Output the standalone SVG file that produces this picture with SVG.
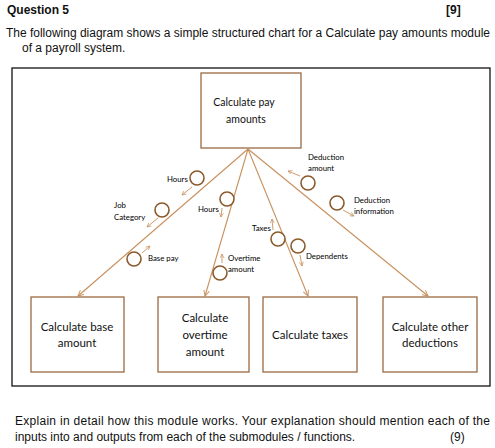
<svg xmlns="http://www.w3.org/2000/svg" width="495" height="448" viewBox="0 0 495 448">
<defs>
<style>
.hdr{font-family:"Liberation Sans",Arial,sans-serif;font-size:12px;fill:#111}
.b{font-weight:bold}
.box{fill:#fff;stroke:#9a6b43;stroke-width:1.3}
.bt{font-family:Lato,"Open Sans",sans-serif;font-size:11.5px;fill:#111;text-anchor:middle}
.tt{font-family:Lato,"Open Sans",sans-serif;font-size:10.5px;fill:#111;text-anchor:middle}
.lbl{font-family:Lato,"Open Sans",sans-serif;font-size:7.8px;fill:#000}
.con{stroke:#c8905e;stroke-width:1.1;fill:none}
.cpl{stroke:#c8905e;stroke-width:0.9;fill:none}
.cir{fill:#fff;stroke:#8b5a2b;stroke-width:1.6}
</style>
<marker id="ah" viewBox="0 0 10 10" refX="9" refY="5" markerWidth="7" markerHeight="7" orient="auto" markerUnits="userSpaceOnUse">
<path d="M1,1 L9,5 L1,9" fill="none" stroke="#c8905e" stroke-width="1.3"/>
</marker>
<marker id="sh" viewBox="0 0 10 10" refX="9" refY="5" markerWidth="5" markerHeight="5" orient="auto" markerUnits="userSpaceOnUse">
<path d="M1,1 L9,5 L1,9" fill="none" stroke="#c8905e" stroke-width="1.4"/>
</marker>
</defs>
<rect width="495" height="448" fill="#fff"/>
<g id="header">
<text class="hdr b" x="7" y="14">Question 5</text>
<text class="hdr b" x="446" y="14">[9]</text>
<text class="hdr" x="6" y="37" textLength="484" lengthAdjust="spacingAndGlyphs">The following diagram shows a simple structured chart for a Calculate pay amounts module</text>
<text class="hdr" x="22" y="52">of a payroll system.</text>
</g>
<rect id="frame" x="12" y="68" width="478" height="318" fill="none" stroke="#111" stroke-width="1.3"/>
<g id="connectors">
<line class="con" x1="248" y1="149" x2="78" y2="296" marker-end="url(#ah)"/>
<line class="con" x1="248" y1="149" x2="205" y2="296" marker-end="url(#ah)"/>
<line class="con" x1="248" y1="149" x2="308" y2="296" marker-end="url(#ah)"/>
<line class="con" x1="248" y1="149" x2="428" y2="296" marker-end="url(#ah)"/>
</g>
<g id="top">
<rect class="box" x="201" y="73" width="100" height="75"/>
<text class="tt" x="244" y="106">Calculate pay</text>
<text class="tt" x="246" y="123">amounts</text>
</g>
<g id="base">
<rect class="box" x="31" y="297" width="93" height="75"/>
<text class="bt" x="77" y="331">Calculate base</text>
<text class="bt" x="77" y="347">amount</text>
</g>
<g id="overtime">
<rect class="box" x="158" y="297" width="91" height="75"/>
<text class="bt" x="205" y="322">Calculate</text>
<text class="bt" x="205" y="339">overtime</text>
<text class="bt" x="205" y="356">amount</text>
</g>
<g id="taxes">
<rect class="box" x="263" y="297" width="94" height="75"/>
<text class="bt" x="310" y="339">Calculate taxes</text>
</g>
<g id="other">
<rect class="box" x="383" y="297" width="94" height="75"/>
<text class="bt" x="430" y="331">Calculate other</text>
<text class="bt" x="430" y="347">deductions</text>
</g>
<g id="couples">
<g id="c-hours1">
<line class="cpl" x1="192" y1="187" x2="182" y2="195" marker-end="url(#sh)"/>
<circle class="cir" cx="197" cy="178" r="7"/>
<text class="lbl" x="167" y="182">Hours</text>
</g>
<g id="c-job">
<line class="cpl" x1="158" y1="218" x2="147" y2="227" marker-end="url(#sh)"/>
<circle class="cir" cx="162" cy="210" r="7"/>
<text class="lbl" x="114" y="208">Job</text>
<text class="lbl" x="114" y="220">Category</text>
</g>
<g id="c-basepay">
<line class="cpl" x1="142" y1="253" x2="150" y2="246" marker-end="url(#sh)"/>
<circle class="cir" cx="134" cy="259" r="7"/>
<text class="lbl" x="148" y="261">Base pay</text>
</g>
<g id="c-hours2">
<line class="cpl" x1="222" y1="208" x2="221" y2="217" marker-end="url(#sh)"/>
<circle class="cir" cx="227" cy="199" r="7"/>
<text class="lbl" x="198" y="212">Hours</text>
</g>
<g id="c-overtime">
<line class="cpl" x1="222" y1="263" x2="222" y2="254" marker-end="url(#sh)"/>
<circle class="cir" cx="220" cy="273" r="7"/>
<text class="lbl" x="228" y="261">Overtime</text>
<text class="lbl" x="228" y="272">amount</text>
</g>
<g id="c-taxes">
<line class="cpl" x1="273" y1="230" x2="272" y2="219" marker-end="url(#sh)"/>
<circle class="cir" cx="278" cy="239" r="7"/>
<text class="lbl" x="252" y="231">Taxes</text>
</g>
<g id="c-dependents">
<line class="cpl" x1="300" y1="255" x2="302" y2="266" marker-end="url(#sh)"/>
<circle class="cir" cx="298" cy="246" r="7"/>
<text class="lbl" x="306" y="259">Dependents</text>
</g>
<g id="c-dedamount">
<line class="cpl" x1="300" y1="176" x2="288" y2="171" marker-end="url(#sh)"/>
<circle class="cir" cx="308" cy="183" r="7"/>
<text class="lbl" x="308" y="160">Deduction</text>
<text class="lbl" x="308" y="171">amount</text>
</g>
<g id="c-dedinfo">
<line class="cpl" x1="343" y1="210" x2="354" y2="216" marker-end="url(#sh)"/>
<circle class="cir" cx="337" cy="203" r="7"/>
<text class="lbl" x="354" y="203">Deduction</text>
<text class="lbl" x="354" y="214">information</text>
</g>
</g>
<g id="footer">
<text class="hdr" x="15" y="425" textLength="475" lengthAdjust="spacing">Explain in detail how this module works. Your explanation should mention each of the</text>
<text class="hdr" x="15" y="441">inputs into and outputs from each of the submodules / functions.</text>
<text class="hdr" x="450" y="441">(9)</text>
</g>
</svg>
